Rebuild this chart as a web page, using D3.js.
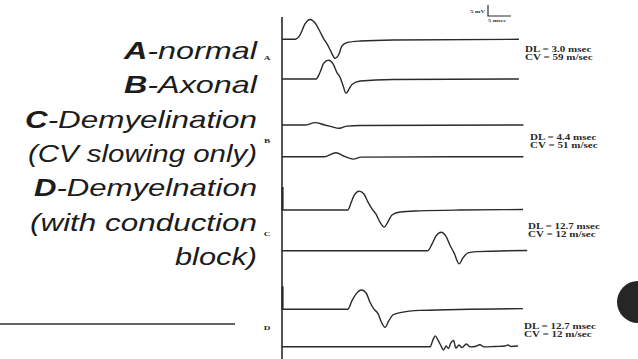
<!DOCTYPE html>
<html>
<head>
<meta charset="utf-8">
<script src="https://cdn.jsdelivr.net/npm/d3@7"></script>
<style>
  body { margin: 0; background: #fff; }
  svg { display: block; }
</style>
</head>
<body>
<div id="chart"></div>
<script>
// slide text (left column), first letter bold
const slideLines = [
  { bold: "A", rest: "-normal" },
  { bold: "B", rest: "-Axonal" },
  { bold: "C", rest: "-Demyelination" },
  { bold: "",  rest: "(CV slowing only)" },
  { bold: "D", rest: "-Demyelnation" },
  { bold: "",  rest: "(with conduction" },
  { bold: "",  rest: "block)" }
];

// panel letters and the DL / CV readouts
const panels = ["A", "B", "C", "D"];
const panelDL = ["DL = 3.0 msec", "DL = 4.4 msec", "DL = 12.7 msec", "DL = 12.7 msec"];
const panelCV = ["CV = 59 m/sec", "CV = 51 m/sec", "CV = 12 m/sec", "CV = 12 m/sec"];

// waveforms: [time msec, amplitude mV]
const traceA1 = [[0,0],[2.8,0],[3.9,1.9],[5.0,7.0],[6.1,9.0],[7.2,7.4],[8.3,3.3],[9.1,0.1],[9.8,-2.1],[10.7,-5.8],[11.5,-8.6],[12.4,-6.7],[13.0,-3.1],[14.1,-1.5],[17.0,-0.8],[24.1,-0.3],[51.5,0]];
const traceA2 = [[0,0],[7.4,0],[8.3,3.2],[9.1,7.3],[10.1,8.5],[11.1,6.9],[12.0,2.7],[12.6,0.9],[13.3,-3.2],[13.9,-6.5],[14.6,-4.5],[15.2,-2.5],[17.0,-0.9],[24.1,-0.2],[51.5,0]];
const traceB1 = [[0,0],[5.0,0],[7.2,1.1],[9.3,0],[10.5,-0.6],[12.5,-1.5],[14.1,-0.5],[17.0,-0.2],[52.5,0]];
const traceB2 = [[0,0],[9.3,0],[11.7,1.8],[13.7,0],[15.5,-1.1],[17.2,-0.2],[52.5,0]];
const traceC1 = [[0,0],[14.3,0],[15.0,3.2],[15.7,6.8],[16.8,8.6],[17.8,7.3],[18.7,3.6],[19.6,0.4],[20.4,-1.8],[21.3,-5.5],[22.2,-7.8],[23.0,-5.5],[23.9,-2.3],[25.7,-0.9],[30.0,-0.4],[38.7,0],[52.4,0.2]];
const traceC2 = [[0,0],[31.7,0],[32.6,3.0],[33.5,6.7],[34.6,8.4],[35.6,6.7],[36.5,2.6],[37.4,-1.0],[38.5,-6.0],[39.3,-3.4],[40.4,-1.0],[42.4,-0.4],[53.3,0.1]];
const traceD1 = [[0,0],[14.3,0],[15.2,3.8],[16.1,7.0],[17.3,8.8],[18.3,7.4],[19.1,3.3],[20.0,0.1],[20.9,-2.1],[21.5,-5.3],[22.4,-8.2],[23.2,-5.3],[24.1,-2.6],[25.7,-1.5],[30.0,-0.5],[52.4,0.3]];
const traceD2 = [[0,0],[32.2,0],[32.8,3.0],[33.3,4.9],[33.9,3.0],[34.6,0.3],[35.1,-1.5],[35.7,0.3],[36.2,-0.8],[36.7,1.7],[37.3,2.8],[37.8,-0.6],[38.5,0.8],[39.1,-0.4],[40.1,1.2],[40.9,-0.1],[42.0,0.1],[43.0,0.9],[43.9,-0.1],[46.3,0.1],[48.5,0.3],[49.1,0.8],[49.8,0.1],[51.3,0.3]];

// calibration bar
const calMv = 5, calMs = 5;

const W = 638, H = 359;
const ink = "#2a2a2a";

const svg = d3.select("#chart").append("svg")
    .attr("width", W)
    .attr("height", H);

// ---- left column text (slide was stretched to 16:9, so the text is too) ----
var lineWidths = [133, 133, 232, 229, 223, 227, 82]; // measured on the slide
const textG = svg.append("g");
const lineY = d3.scaleLinear().domain([0, slideLines.length - 1]).range([59, 265]);

slideLines.forEach((l, i) => {
  const t = textG.append("text")
      .attr("x", 257)
      .attr("y", lineY(i))
      .attr("text-anchor", "end")
      .attr("textLength", lineWidths[i])
      .attr("lengthAdjust", "spacingAndGlyphs")
      .style("font-family", "'Liberation Sans', Arial, sans-serif")
      .style("font-style", "italic")
      .style("font-size", "24px")
      .style("fill", "#1c1c1c");
  if (l.bold) t.append("tspan").style("font-weight", "bold").text(l.bold);
  t.append("tspan").text(l.rest);
});

svg.append("line")
    .attr("x1", 0).attr("x2", 235)
    .attr("y1", 324).attr("y2", 324)
    .attr("stroke", "#333")
    .attr("stroke-width", 1.5);

// ---- the scanned figure ----
var x = d3.scaleLinear().domain([0, 50]).range([282, 512]);
var amp = d3.scaleLinear().domain([0, 5]).range([0, -11]);

var traces = [traceA1, traceA2, traceB1, traceB2, traceC1, traceC2, traceD1, traceD2];
var baselines = [39.3, 79, 125, 156.7, 210, 250.7, 309.3, 346.7]; // layout only

var line = d3.line()
    .x(d => x(d[0]))
    .curve(d3.curveMonotoneX);

var fig = svg.append("g");

// vertical reference line at stimulus time
fig.append("line")
    .attr("x1", x(0)).attr("x2", x(0))
    .attr("y1", 17).attr("y2", H)
    .attr("stroke", ink)
    .attr("stroke-width", 1.6);

// stimulus artefacts on C and D proximal traces
[4, 6].forEach(i => {
  fig.append("line")
      .attr("x1", x(0) + 0.5).attr("x2", x(0) + 0.5)
      .attr("y1", baselines[i] - 23).attr("y2", baselines[i])
      .attr("stroke", ink)
      .attr("stroke-width", 2.2);
});

traces.forEach((tr, i) => {
  fig.append("path")
      .attr("fill", "none")
      .attr("stroke", ink)
      .attr("stroke-width", 1.4)
      .attr("d", line.y(d => baselines[i] + amp(d[1]))(tr));
});

// panel letters and readouts
var letterY = [57, 140, 233, 327];
var readY = [49, 137, 226, 326];
var readX = [525, 530, 528, 524];

panels.forEach((p, i) => {
  fig.append("text")
      .attr("transform", `translate(267,${letterY[i] + 2.5}) scale(1.33,1)`)
      .attr("text-anchor", "middle")
      .style("font-family", "'Liberation Serif', serif")
      .style("font-weight", "bold")
      .style("font-size", "7px")
      .style("fill", ink)
      .text(p);

  [panelDL[i], panelCV[i]].forEach((s, k) => {
    fig.append("text")
        .attr("transform", `translate(${readX[i]},${readY[i] + 3 + k * 8}) scale(1.33,1)`)
        .style("font-family", "'Liberation Serif', serif")
        .style("font-weight", "bold")
        .style("font-size", "8.3px")
        .style("fill", ink)
        .text(s);
  });
});

// calibration bar
var calX = 488, calY = 16;
fig.append("path")
    .attr("fill", "none")
    .attr("stroke", ink)
    .attr("stroke-width", 1.2)
    .attr("d", `M${calX},${calY + amp(calMv)}V${calY}H${calX + x(calMs) - x(0)}`);

fig.append("text")
    .attr("transform", `translate(${calX - 3},${calY - 3}) scale(1.33,1)`)
    .attr("text-anchor", "end")
    .style("font-family", "'Liberation Serif', serif")
    .style("font-weight", "bold")
    .style("font-size", "4.8px")
    .style("fill", ink)
    .text(calMv + " mV");

fig.append("text")
    .attr("transform", `translate(${calX},${calY + 5.5}) scale(1.33,1)`)
    .style("font-family", "'Liberation Serif', serif")
    .style("font-weight", "bold")
    .style("font-size", "4.8px")
    .style("fill", ink)
    .text(calMs + " msec");

// slide decoration circle at the right edge
svg.append("circle")
    .attr("cx", 638)
    .attr("cy", 302)
    .attr("r", 21)
    .attr("fill", "#262626");
</script>
</body>
</html>
